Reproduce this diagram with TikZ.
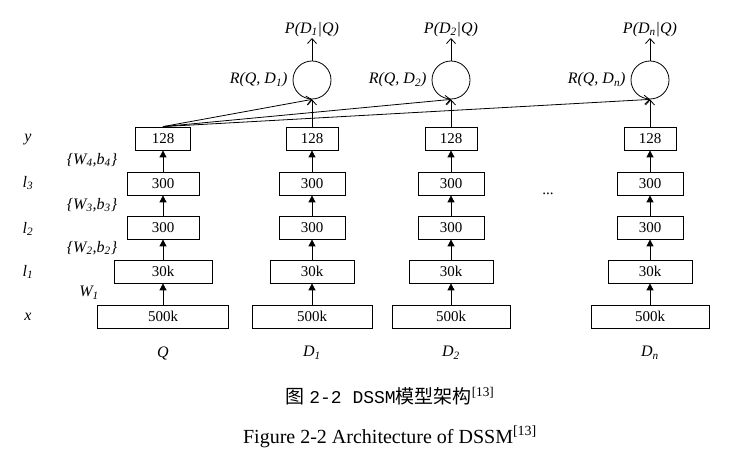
\documentclass[tikz,border=0pt]{standalone}
\usepackage{fontspec}
\setmainfont{Liberation Serif}
\newfontfamily\cjk{Noto Serif CJK SC}[FakeStretch=1]
\newfontfamily\cjks{Noto Sans CJK SC}
\newfontfamily\mono{Liberation Mono}
\usetikzlibrary{arrows.meta}
\newcommand{\sbx}[1]{\textsubscript{#1}}
\begin{document}
\begin{tikzpicture}[x=1pt,y=-1pt,
  box/.style={draw,thick,minimum height=23pt,inner sep=0pt,font=\fontsize{15}{15}\selectfont},
  up/.style={-{Triangle[length=7pt,width=7pt]},thick},
  open/.style={-{Straight Barb[length=5pt,width=9pt]},thick},
  lab/.style={font=\fontsize{16}{16}\selectfont\itshape},
  circ/.style={draw,thick,circle,minimum size=38pt,inner sep=0pt}]
\useasboundingbox (0,0) rectangle (739,454);
\foreach \n/\cx/\ma/\mb/\mc/\md/\nm in {q/163/131/98/72/55/Q,a/312/120/84/66/52/D\sbx{1},b/451/118/84/66/52/D\sbx{2},n/650/118/84/66/52/D\sbx{n}}{
  \node[box,minimum width=\ma pt] (\n x) at (\cx,316.5) {500k};
  \node[box,minimum width=\mb pt] (\n l1) at (\cx,271.5) {30k};
  \node[box,minimum width=\mc pt] (\n l2) at (\cx,227.5) {300};
  \node[box,minimum width=\mc pt] (\n l3) at (\cx,183.5) {300};
  \node[box,minimum width=\md pt] (\n y) at (\cx,138.5) {128};
  \node[lab] (\n lab) at (\cx,353) {\nm};
  \draw[up] (\n x) -- (\n l1);
  \draw[up] (\n l1) -- (\n l2);
  \draw[up] (\n l2) -- (\n l3);
  \draw[up] (\n l3) -- (\n y);
}
\foreach \n/\cx/\d in {a/312/1,b/451/2,n/650/n}{
  \node[circ] (\n c) at (\cx,80) {};
  \node[lab,anchor=east] (\n r) at (\cx-21,80) {R(Q, D\sbx{\d})};
  \coordinate (\n t) at (\cx,38);
  \node[lab,anchor=south,inner sep=1pt] (\n p) at (\cx,38) {P(D\sbx{\d}|Q)};
  \draw[open] (\n c.north) -- (\n t);
  \draw[open] (\n y.north) -- (\n c.south);
  \draw[open] (qy.north) -- (\n c.south);
}
\node[lab] (ly) at (28,140) {y};
\node[lab] (l3) at (28,183) {l\sbx{3}};
\node[lab] (l2) at (28,229) {l\sbx{2}};
\node[lab] (l1) at (28,272) {l\sbx{1}};
\node[lab] (lx) at (28,317) {x};
\node[lab] (w4) at (92,160) {\{W\sbx{4},b\sbx{4}\}};
\node[lab] (w3) at (92,205) {\{W\sbx{3},b\sbx{3}\}};
\node[lab] (w2) at (92,248) {\{W\sbx{2},b\sbx{2}\}};
\node[lab] (w1) at (89,293) {W\sbx{1}};
\node[font=\fontsize{15}{15}\selectfont] (dots) at (548,194) {...};
\node (cap1) at (390,396) {\fontsize{19}{19}\selectfont{\cjks 图} {\mono\fontsize{18}{18}\selectfont 2-2 DSSM}{\cjks 模型架构}\textsuperscript{[13]}};
\node (cap2) at (390,437) {\fontsize{20}{20}\selectfont Figure 2-2 Architecture of DSSM\textsuperscript{[13]}};
\end{tikzpicture}
\end{document}
